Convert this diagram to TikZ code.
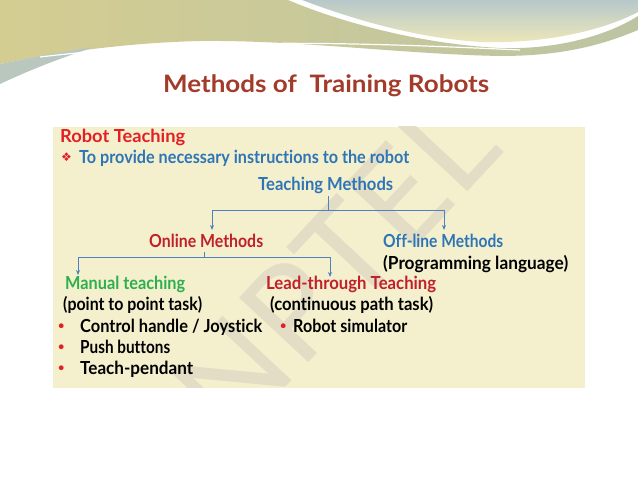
\documentclass[tikz,border=0pt]{standalone}
\usepackage{fontspec}
\setmainfont{Lato}[UprightFont=* Bold, BoldFont=* Bold, Ligatures=NoCommon]
\newfontfamily\symfont{DejaVu Sans}
\newfontfamily\wmfont{Lato}[UprightFont=* Regular]
\usetikzlibrary{arrows.meta}
\newsavebox\fitbox
\newcommand\fitw[2]{\sbox\fitbox{#2}\pgfmathsetmacro\fitfac{#1/\wd\fitbox}\scalebox{\fitfac}[1]{\usebox\fitbox}}
\definecolor{panelc}{HTML}{F4F0CE}
\definecolor{titlec}{HTML}{A33B2A}
\definecolor{redc}{HTML}{E31E24}
\definecolor{dredc}{HTML}{C0202A}
\definecolor{bluec}{HTML}{2E75B6}
\definecolor{greenc}{HTML}{2DB04B}
\definecolor{linec}{HTML}{4F81BD}
\definecolor{wmc}{HTML}{E2DDC4}
\definecolor{khaki}{HTML}{D4CD92}
\definecolor{khakir}{HTML}{BCC4A2}
\definecolor{bgray}{HTML}{B7C8CA}
\definecolor{pyell}{HTML}{EEE8B8}
\definecolor{lband}{HTML}{B9C7BF}
\tikzset{
  txt/.style={anchor=base west, inner sep=0pt, font=\fontsize{18}{20}\selectfont},
  conn/.style={draw=linec, line width=0.9pt},
  arr/.style={conn, -{Stealth[length=5pt,width=4pt]}},
  bul/.style={anchor=base west, inner sep=0pt, text=redc, font=\fontsize{11}{12}\selectfont}
}
\begin{document}
\begin{tikzpicture}[x=1pt,y=-1pt]
\useasboundingbox (0,0) rectangle (638,478);
\fill[white] (0,0) rectangle (638,478);
% top decoration
\shade[left color=khaki, right color=khakir] (0,0) -- (288,0)
  .. controls (340,22) and (420,44) .. (500,48)
  .. controls (560,50) and (610,34) .. (638,16) -- (638,30)
  .. controls (600,46) and (560,56) .. (500,56)
  .. controls (400,54) and (300,40) .. (200,41)
  .. controls (120,43) and (50,54) .. (0,64) -- cycle;
\shade[top color=bgray, bottom color=pyell] (302,0) -- (638,0) -- (638,12)
  .. controls (600,32) and (540,44) .. (480,42)
  .. controls (420,38) and (360,22) .. (302,0) -- cycle;
\fill[lband] (0,64) .. controls (30,58) and (60,52) .. (95,47)
  .. controls (60,58) and (30,70) .. (0,84) -- cycle;
\draw[white, line width=1.2pt] (40,57) .. controls (200,38) and (350,42) .. (520,50);
% title
\node[anchor=base west, inner sep=0pt, text=titlec, font=\fontsize{24}{26}\selectfont] (title) at (163,93) {\fitw{326}{Methods of\ \ Training Robots}};
% panel
\fill[panelc] (53,127) rectangle (585,388);
\begin{scope}
\clip (53,127) rectangle (585,388);
\node[text=wmc, rotate=47, font=\wmfont\fontsize{132}{132}\selectfont] (wm) at (334,266) {NPTEL};
\end{scope}
% texts
\node[txt, text=redc] (rt) at (60,143) {\fitw{125}{Robot Teaching}};
\node[txt, text=redc, font=\symfont\fontsize{12}{14}\selectfont] (dia) at (61,162) {❖};
\node[txt, text=bluec] (prov) at (79,164) {\fitw{330}{To provide necessary instructions to the robot}};
\node[txt, text=bluec] (tm) at (258,191) {\fitw{135}{Teaching Methods}};
\node[txt, text=dredc] (om) at (149,248) {\fitw{114}{Online Methods}};
\node[txt, text=bluec] (ofm) at (383,248) {\fitw{120}{Off-line Methods}};
\node[txt] (pl) at (383,270) {\fitw{185}{(Programming language)}};
\node[txt, text=greenc] (mt) at (65,290) {\fitw{120}{Manual teaching}};
\node[txt, text=dredc] (lt) at (266,290) {\fitw{170}{Lead-through Teaching}};
\node[txt] (pp) at (63,311) {\fitw{139}{(point to point task)}};
\node[txt] (cp) at (270,311) {\fitw{163}{(continuous path task)}};
\node[bul] (b1) at (58,330) {•};
\node[txt] (ch) at (80,333) {\fitw{182}{Control handle / Joystick}};
\node[bul] (b2) at (58,351) {•};
\node[txt] (pb) at (80,354) {\fitw{90}{Push buttons}};
\node[bul] (b3) at (58,372) {•};
\node[txt] (tp) at (80,375) {\fitw{113}{Teach-pendant}};
\node[bul] (b4) at (280,330) {•};
\node[txt] (rs) at (293,333) {\fitw{114}{Robot simulator}};
% connectors
\coordinate (j1) at (328,210);
\coordinate (l1) at (212,210);
\coordinate (r1) at (444,210);
\draw[conn] (328,196) -- (j1);
\draw[arr] (j1) -- (l1) -- (212,230);
\draw[arr] (j1) -- (r1) -- (444,230);
\coordinate (j2) at (204,257);
\draw[conn] (204,252) -- (j2);
\draw[arr] (j2) -- (78,257) -- (78,275);
\draw[arr] (j2) -- (330,257) -- (330,277);
\end{tikzpicture}
\end{document}
